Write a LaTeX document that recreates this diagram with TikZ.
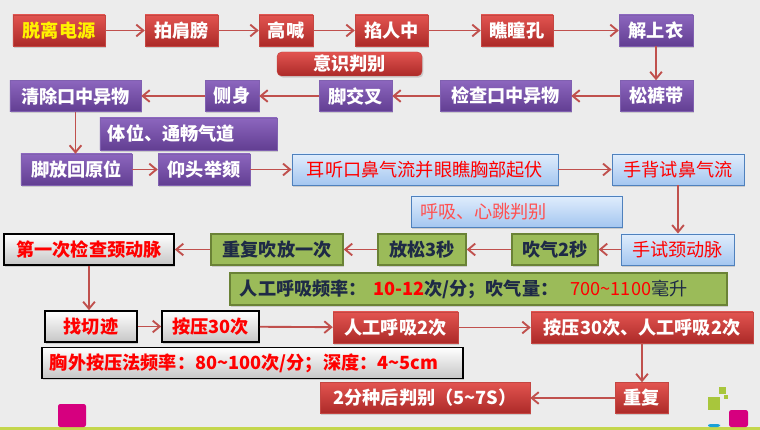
\documentclass[tikz,border=0pt]{standalone}
\usepackage{fontspec}
\setmainfont{Noto Sans CJK SC}
\usetikzlibrary{arrows.meta,shadows}
\definecolor{bgray}{RGB}{236,236,236}
\definecolor{redtop}{RGB}{226,84,80}
\definecolor{redbot}{RGB}{172,42,40}
\definecolor{redline}{RGB}{196,70,66}
\definecolor{purtop}{RGB}{140,102,190}
\definecolor{purbot}{RGB}{98,62,146}
\definecolor{purline}{RGB}{128,96,176}
\definecolor{blutop}{RGB}{224,237,252}
\definecolor{blubot}{RGB}{164,198,240}
\definecolor{bluline}{RGB}{79,129,189}
\definecolor{grnfill}{RGB}{155,187,89}
\definecolor{grnline}{RGB}{106,130,54}
\definecolor{grntext}{RGB}{30,42,70}
\definecolor{arrowred}{RGB}{192,80,77}
\definecolor{pinktext}{RGB}{255,80,80}
\definecolor{limebar}{RGB}{196,214,76}
\definecolor{magenta}{RGB}{214,0,127}
\definecolor{lime}{RGB}{168,198,60}
\definecolor{cyanbox}{RGB}{27,161,216}

\begin{document}
\begin{tikzpicture}[x=0.03cm, y=-0.03cm, font=\fontsize{15.5}{18}\selectfont\bfseries,
  box/.style={minimum height=0.93cm, inner sep=0pt,
    drop shadow={opacity=.3, shadow xshift=1.2pt, shadow yshift=-1.4pt}},
  redbox/.style={box, top color=redtop, bottom color=redbot, draw=redline, text=white},
  purbox/.style={box, top color=purtop, bottom color=purbot, draw=purline, text=white},
  blubox/.style={box, top color=blutop, bottom color=blubot, draw=bluline, line width=0.8pt, text=red,
    font=\fontsize{15.5}{18}\selectfont\mdseries},
  grnbox/.style={box, fill=grnfill, draw=grnline, line width=1.2pt, text=grntext},
  grybox/.style={box, top color=white, bottom color=gray!45, draw=black, line width=1.4pt, text=red},
  flow/.style={draw=arrowred, line width=1.6pt, -{Straight Barb[length=6pt,width=10pt]}}]
  \useasboundingbox (0,0) rectangle (760,430);
  % background and corner squares
  \fill[bgray] (0,0) rectangle (760,430);
  \fill[limebar] (0,427) rectangle (760,430);
  \fill[magenta, rounded corners=2pt] (58,404) rectangle (86,427);
  \fill[lime] (708,397) rectangle (720,410);
  \fill[lime] (719,387) rectangle (726,394);
  \fill[lime] (724,395) rectangle (728,399);
  \fill[magenta, rounded corners=2pt] (729,410) rectangle (748,427);
  \fill[cyanbox, rounded corners=2pt] (708,424) rectangle (720,427);
  % Row 1: consciousness check
  \node[redbox, minimum width=2.76cm, text=yellow] (src) at (59,30.5) {脱离电源};
  \node[redbox, minimum width=2.19cm] (pat) at (181.5,30.5) {拍肩膀};
  \node[redbox, minimum width=1.62cm] (shout) at (286,30.5) {高喊};
  \node[redbox, minimum width=2.19cm] (pinch) at (391.5,30.5) {掐人中};
  \node[redbox, minimum width=2.16cm] (pupil) at (517,30.5) {瞧瞳孔};
  \node[purbox, minimum width=2.22cm] (coat) at (656,30.5) {解上衣};
  \node[redbox, minimum width=4.35cm, minimum height=0.72cm, rounded corners=4pt] (aware) at (349.5,64) {意识判别};
  \draw[flow] (src) -- (pat);
  \draw[flow] (pat) -- (shout);
  \draw[flow] (shout) -- (pinch);
  \draw[flow] (pinch) -- (pupil);
  \draw[flow] (pupil) -- (coat);
  % Row 2: airway
  \node[purbox, minimum width=3.93cm] (clear) at (75.5,96) {清除口中异物};
  \node[purbox, minimum width=1.62cm] (side) at (232,96) {侧身};
  \node[purbox, minimum width=2.19cm] (legs) at (355.5,96) {脚交叉};
  \node[purbox, minimum width=3.93cm] (check) at (505.5,96) {检查口中异物};
  \node[purbox, minimum width=2.19cm] (belt) at (656.5,96) {松裤带};
  \node[purbox, minimum height=0.96cm, inner xsep=0.24cm, text width=4.83cm, align=left] (airway) at (188.5,134) {体位、通畅气道};
  \draw[flow] (coat.south) -- (coat.south |- belt.north);
  \draw[flow] (belt) -- (check);
  \draw[flow] (check) -- (legs);
  \draw[flow] (legs) -- (side);
  \draw[flow] (side) -- (clear);
  % Row 3: breathing check
  \node[purbox, minimum width=3.33cm] (back) at (76.5,169.5) {脚放回原位};
  \node[purbox, minimum width=2.76cm] (tilt) at (204,169.5) {仰头举颏};
  \node[blubox, minimum width=7.98cm] (listen) at (425,169.5) {耳听口鼻气流并眼瞧胸部起伏};
  \node[blubox, minimum width=3.96cm] (nose) at (678,169.5) {手背试鼻气流};
  \node[blubox, inner xsep=0.27cm, text width=5.79cm, align=left, text=pinktext] (breath) at (516.5,211.5) {呼吸、心跳判别};
  \draw[flow] (clear.south) -- (clear.south |- back.north);
  \draw[flow] (back) -- (tilt);
  \draw[flow] (tilt) -- (listen);
  \draw[flow] (listen) -- (nose);
  % Row 4: rescue breathing
  \node[grybox, minimum width=5.10cm] (first) at (89,249.5) {第一次检查颈动脉};
  \node[grnbox, minimum width=3.96cm] (again2) at (277,249.5) {重复吹放一次};
  \node[grnbox, minimum width=2.64cm] (relax) at (422,249.5) {放松3秒};
  \node[grnbox, minimum width=2.58cm] (blow) at (555,249.5) {吹气2秒};
  \node[blubox, minimum width=3.39cm] (pulse) at (677.5,249.5) {手试颈动脉};
  \node[grnbox, minimum height=0.96cm, inner xsep=0.3cm, text width=14.31cm, align=left] (rate) at (478.5,289)
    {人工呼吸频率：\ {\color{red}10-12}次/分；吹气量：\ \ {\mdseries\color{red}700\textasciitilde1100}{\mdseries 毫升}};
  \draw[flow] (nose.south) -- (nose.south |- pulse.north);
  \draw[flow] (pulse) -- (blow);
  \draw[flow] (blow) -- (relax);
  \draw[flow] (relax) -- (again2);
  \draw[flow] (again2) -- (first);
  % Row 5: chest compression
  \node[grybox, minimum width=2.76cm] (notch) at (91,326.5) {找切迹};
  \node[grybox, minimum width=2.91cm] (press) at (210.5,326.5) {按压30次};
  \node[redbox, minimum width=3.75cm] (breath2) at (395.5,327.5) {人工呼吸2次};
  \node[redbox, minimum width=6.66cm] (cycle) at (642,327.5) {按压30次、人工呼吸2次};
  \node[grybox, inner xsep=0.24cm, text width=12.15cm, align=left] (cpr) at (252.5,363)
    {胸外按压法频率：80\textasciitilde100次/分；深度：4\textasciitilde5cm};
  \node[redbox, minimum width=6.30cm] (judge) at (425,398) {2分种后判别（5\textasciitilde7S）};
  \node[redbox, minimum width=1.59cm] (repeat) at (641.5,398) {重复};
  \draw[flow] (first.south) -- (first.south |- notch.north);
  \draw[flow] (notch) -- (press);
  \draw[flow] (press) -- (breath2);
  \draw[flow] (breath2) -- (cycle);
  \draw[flow] (cycle.south) -- (cycle.south |- repeat.north);
  \draw[flow] (repeat) -- (judge);
\end{tikzpicture}
\end{document}
